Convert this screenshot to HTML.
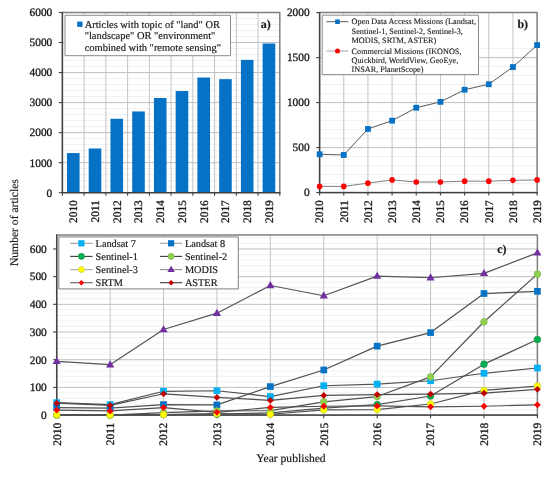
<!DOCTYPE html>
<html><head><meta charset="utf-8"><title>Figure</title>
<style>html,body{margin:0;padding:0;background:#fff;}svg{display:block;filter:blur(0.5px);}</style></head>
<body>
<svg width="550" height="477" viewBox="0 0 550 477" font-family='"Liberation Serif", "Times New Roman", serif' fill="#1a1a1a" stroke-linejoin="round" text-rendering="geometricPrecision"><style>text{stroke:#1a1a1a;stroke-width:0.18px;}.t{stroke-width:0.32px;}</style>
<rect width="550" height="477" fill="#fff"/>
<line x1="62.4" y1="186.69" x2="279.8" y2="186.69" stroke="#f1f1f1" stroke-width="1"/>
<line x1="62.4" y1="180.69" x2="279.8" y2="180.69" stroke="#f1f1f1" stroke-width="1"/>
<line x1="62.4" y1="174.68" x2="279.8" y2="174.68" stroke="#f1f1f1" stroke-width="1"/>
<line x1="62.4" y1="168.67" x2="279.8" y2="168.67" stroke="#f1f1f1" stroke-width="1"/>
<line x1="62.4" y1="156.66" x2="279.8" y2="156.66" stroke="#f1f1f1" stroke-width="1"/>
<line x1="62.4" y1="150.65" x2="279.8" y2="150.65" stroke="#f1f1f1" stroke-width="1"/>
<line x1="62.4" y1="144.65" x2="279.8" y2="144.65" stroke="#f1f1f1" stroke-width="1"/>
<line x1="62.4" y1="138.64" x2="279.8" y2="138.64" stroke="#f1f1f1" stroke-width="1"/>
<line x1="62.4" y1="126.63" x2="279.8" y2="126.63" stroke="#f1f1f1" stroke-width="1"/>
<line x1="62.4" y1="120.62" x2="279.8" y2="120.62" stroke="#f1f1f1" stroke-width="1"/>
<line x1="62.4" y1="114.61" x2="279.8" y2="114.61" stroke="#f1f1f1" stroke-width="1"/>
<line x1="62.4" y1="108.61" x2="279.8" y2="108.61" stroke="#f1f1f1" stroke-width="1"/>
<line x1="62.4" y1="96.59" x2="279.8" y2="96.59" stroke="#f1f1f1" stroke-width="1"/>
<line x1="62.4" y1="90.59" x2="279.8" y2="90.59" stroke="#f1f1f1" stroke-width="1"/>
<line x1="62.4" y1="84.58" x2="279.8" y2="84.58" stroke="#f1f1f1" stroke-width="1"/>
<line x1="62.4" y1="78.57" x2="279.8" y2="78.57" stroke="#f1f1f1" stroke-width="1"/>
<line x1="62.4" y1="66.56" x2="279.8" y2="66.56" stroke="#f1f1f1" stroke-width="1"/>
<line x1="62.4" y1="60.55" x2="279.8" y2="60.55" stroke="#f1f1f1" stroke-width="1"/>
<line x1="62.4" y1="54.55" x2="279.8" y2="54.55" stroke="#f1f1f1" stroke-width="1"/>
<line x1="62.4" y1="48.54" x2="279.8" y2="48.54" stroke="#f1f1f1" stroke-width="1"/>
<line x1="62.4" y1="36.53" x2="279.8" y2="36.53" stroke="#f1f1f1" stroke-width="1"/>
<line x1="62.4" y1="30.52" x2="279.8" y2="30.52" stroke="#f1f1f1" stroke-width="1"/>
<line x1="62.4" y1="24.51" x2="279.8" y2="24.51" stroke="#f1f1f1" stroke-width="1"/>
<line x1="62.4" y1="18.51" x2="279.8" y2="18.51" stroke="#f1f1f1" stroke-width="1"/>
<line x1="62.4" y1="162.67" x2="279.8" y2="162.67" stroke="#c0c0c0" stroke-width="1"/>
<line x1="62.4" y1="132.63" x2="279.8" y2="132.63" stroke="#c0c0c0" stroke-width="1"/>
<line x1="62.4" y1="102.6" x2="279.8" y2="102.6" stroke="#c0c0c0" stroke-width="1"/>
<line x1="62.4" y1="72.57" x2="279.8" y2="72.57" stroke="#c0c0c0" stroke-width="1"/>
<line x1="62.4" y1="42.53" x2="279.8" y2="42.53" stroke="#c0c0c0" stroke-width="1"/>
<line x1="84.14" y1="12.5" x2="84.14" y2="192.7" stroke="#bdbdbd" stroke-width="0.9"/>
<line x1="105.88" y1="12.5" x2="105.88" y2="192.7" stroke="#bdbdbd" stroke-width="0.9"/>
<line x1="127.62" y1="12.5" x2="127.62" y2="192.7" stroke="#bdbdbd" stroke-width="0.9"/>
<line x1="149.36" y1="12.5" x2="149.36" y2="192.7" stroke="#bdbdbd" stroke-width="0.9"/>
<line x1="171.1" y1="12.5" x2="171.1" y2="192.7" stroke="#bdbdbd" stroke-width="0.9"/>
<line x1="192.84" y1="12.5" x2="192.84" y2="192.7" stroke="#bdbdbd" stroke-width="0.9"/>
<line x1="214.58" y1="12.5" x2="214.58" y2="192.7" stroke="#bdbdbd" stroke-width="0.9"/>
<line x1="236.32" y1="12.5" x2="236.32" y2="192.7" stroke="#bdbdbd" stroke-width="0.9"/>
<line x1="258.06" y1="12.5" x2="258.06" y2="192.7" stroke="#bdbdbd" stroke-width="0.9"/>
<rect x="66.97" y="153.06" width="12.6" height="39.64" fill="#0672c6"/>
<rect x="88.71" y="148.49" width="12.6" height="44.21" fill="#0672c6"/>
<rect x="110.45" y="118.76" width="12.6" height="73.94" fill="#0672c6"/>
<rect x="132.19" y="111.46" width="12.6" height="81.24" fill="#0672c6"/>
<rect x="153.93" y="98.03" width="12.6" height="94.67" fill="#0672c6"/>
<rect x="175.67" y="91.04" width="12.6" height="101.66" fill="#0672c6"/>
<rect x="197.41" y="77.52" width="12.6" height="115.18" fill="#0672c6"/>
<rect x="219.15" y="79.17" width="12.6" height="113.53" fill="#0672c6"/>
<rect x="240.89" y="59.86" width="12.6" height="132.84" fill="#0672c6"/>
<rect x="262.63" y="43.49" width="12.6" height="149.21" fill="#0672c6"/>
<rect x="62.4" y="12.5" width="217.4" height="180.2" fill="none" stroke="#7f7f7f" stroke-width="1.5"/>
<line x1="62.4" y1="11.9" x2="62.4" y2="193.3" stroke="#404040" stroke-width="1.3"/>
<line x1="62.4" y1="192.7" x2="280.4" y2="192.7" stroke="#404040" stroke-width="1.3"/>
<line x1="58.8" y1="192.7" x2="62.4" y2="192.7" stroke="#404040" stroke-width="1.1"/>
<text x="52.3" y="196.55" text-anchor="end" font-size="11.4" class="t">0</text>
<line x1="58.8" y1="162.67" x2="62.4" y2="162.67" stroke="#404040" stroke-width="1.1"/>
<text x="52.3" y="166.52" text-anchor="end" font-size="11.4" class="t">1000</text>
<line x1="58.8" y1="132.63" x2="62.4" y2="132.63" stroke="#404040" stroke-width="1.1"/>
<text x="52.3" y="136.49" text-anchor="end" font-size="11.4" class="t">2000</text>
<line x1="58.8" y1="102.6" x2="62.4" y2="102.6" stroke="#404040" stroke-width="1.1"/>
<text x="52.3" y="106.45" text-anchor="end" font-size="11.4" class="t">3000</text>
<line x1="58.8" y1="72.57" x2="62.4" y2="72.57" stroke="#404040" stroke-width="1.1"/>
<text x="52.3" y="76.42" text-anchor="end" font-size="11.4" class="t">4000</text>
<line x1="58.8" y1="42.53" x2="62.4" y2="42.53" stroke="#404040" stroke-width="1.1"/>
<text x="52.3" y="46.39" text-anchor="end" font-size="11.4" class="t">5000</text>
<line x1="58.8" y1="12.5" x2="62.4" y2="12.5" stroke="#404040" stroke-width="1.1"/>
<text x="52.3" y="16.35" text-anchor="end" font-size="11.4" class="t">6000</text>
<line x1="62.4" y1="192.7" x2="62.4" y2="195.7" stroke="#404040" stroke-width="1.1"/>
<line x1="84.14" y1="192.7" x2="84.14" y2="195.7" stroke="#404040" stroke-width="1.1"/>
<line x1="105.88" y1="192.7" x2="105.88" y2="195.7" stroke="#404040" stroke-width="1.1"/>
<line x1="127.62" y1="192.7" x2="127.62" y2="195.7" stroke="#404040" stroke-width="1.1"/>
<line x1="149.36" y1="192.7" x2="149.36" y2="195.7" stroke="#404040" stroke-width="1.1"/>
<line x1="171.1" y1="192.7" x2="171.1" y2="195.7" stroke="#404040" stroke-width="1.1"/>
<line x1="192.84" y1="192.7" x2="192.84" y2="195.7" stroke="#404040" stroke-width="1.1"/>
<line x1="214.58" y1="192.7" x2="214.58" y2="195.7" stroke="#404040" stroke-width="1.1"/>
<line x1="236.32" y1="192.7" x2="236.32" y2="195.7" stroke="#404040" stroke-width="1.1"/>
<line x1="258.06" y1="192.7" x2="258.06" y2="195.7" stroke="#404040" stroke-width="1.1"/>
<line x1="279.8" y1="192.7" x2="279.8" y2="195.7" stroke="#404040" stroke-width="1.1"/>
<text transform="translate(77.12,200.2) rotate(-90)" text-anchor="end" font-size="11.4" class="t">2010</text>
<text transform="translate(98.86,200.2) rotate(-90)" text-anchor="end" font-size="11.4" class="t">2011</text>
<text transform="translate(120.6,200.2) rotate(-90)" text-anchor="end" font-size="11.4" class="t">2012</text>
<text transform="translate(142.34,200.2) rotate(-90)" text-anchor="end" font-size="11.4" class="t">2013</text>
<text transform="translate(164.08,200.2) rotate(-90)" text-anchor="end" font-size="11.4" class="t">2014</text>
<text transform="translate(185.82,200.2) rotate(-90)" text-anchor="end" font-size="11.4" class="t">2015</text>
<text transform="translate(207.56,200.2) rotate(-90)" text-anchor="end" font-size="11.4" class="t">2016</text>
<text transform="translate(229.3,200.2) rotate(-90)" text-anchor="end" font-size="11.4" class="t">2017</text>
<text transform="translate(251.04,200.2) rotate(-90)" text-anchor="end" font-size="11.4" class="t">2018</text>
<text transform="translate(272.78,200.2) rotate(-90)" text-anchor="end" font-size="11.4" class="t">2019</text>
<rect x="65" y="15.3" width="165.5" height="40.4" fill="#fff" stroke="#8c8c8c" stroke-width="1"/>
<rect x="77.2" y="21.6" width="5.3" height="5.3" fill="#0672c6"/>
<text x="84.7" y="27.7" font-size="10.45">Articles with topic of &quot;land&quot; OR</text>
<text x="84.7" y="39.2" font-size="10.45">&quot;landscape&quot; OR &quot;environment&quot;</text>
<text x="84.7" y="50.7" font-size="10.45">combined with &quot;remote sensing&quot;</text>
<text x="260.8" y="28.3" font-size="12" font-weight="bold">a)</text>
<line x1="319.6" y1="183.6" x2="537.1" y2="183.6" stroke="#f1f1f1" stroke-width="1"/>
<line x1="319.6" y1="174.6" x2="537.1" y2="174.6" stroke="#f1f1f1" stroke-width="1"/>
<line x1="319.6" y1="165.6" x2="537.1" y2="165.6" stroke="#f1f1f1" stroke-width="1"/>
<line x1="319.6" y1="156.6" x2="537.1" y2="156.6" stroke="#f1f1f1" stroke-width="1"/>
<line x1="319.6" y1="138.6" x2="537.1" y2="138.6" stroke="#f1f1f1" stroke-width="1"/>
<line x1="319.6" y1="129.6" x2="537.1" y2="129.6" stroke="#f1f1f1" stroke-width="1"/>
<line x1="319.6" y1="120.6" x2="537.1" y2="120.6" stroke="#f1f1f1" stroke-width="1"/>
<line x1="319.6" y1="111.6" x2="537.1" y2="111.6" stroke="#f1f1f1" stroke-width="1"/>
<line x1="319.6" y1="93.6" x2="537.1" y2="93.6" stroke="#f1f1f1" stroke-width="1"/>
<line x1="319.6" y1="84.6" x2="537.1" y2="84.6" stroke="#f1f1f1" stroke-width="1"/>
<line x1="319.6" y1="75.6" x2="537.1" y2="75.6" stroke="#f1f1f1" stroke-width="1"/>
<line x1="319.6" y1="66.6" x2="537.1" y2="66.6" stroke="#f1f1f1" stroke-width="1"/>
<line x1="319.6" y1="48.6" x2="537.1" y2="48.6" stroke="#f1f1f1" stroke-width="1"/>
<line x1="319.6" y1="147.6" x2="537.1" y2="147.6" stroke="#c0c0c0" stroke-width="1"/>
<line x1="319.6" y1="102.6" x2="537.1" y2="102.6" stroke="#c0c0c0" stroke-width="1"/>
<line x1="319.6" y1="57.6" x2="537.1" y2="57.6" stroke="#c0c0c0" stroke-width="1"/>
<line x1="343.77" y1="12.6" x2="343.77" y2="192.6" stroke="#bdbdbd" stroke-width="0.9"/>
<line x1="367.93" y1="12.6" x2="367.93" y2="192.6" stroke="#bdbdbd" stroke-width="0.9"/>
<line x1="392.1" y1="12.6" x2="392.1" y2="192.6" stroke="#bdbdbd" stroke-width="0.9"/>
<line x1="416.27" y1="12.6" x2="416.27" y2="192.6" stroke="#bdbdbd" stroke-width="0.9"/>
<line x1="440.43" y1="12.6" x2="440.43" y2="192.6" stroke="#bdbdbd" stroke-width="0.9"/>
<line x1="464.6" y1="12.6" x2="464.6" y2="192.6" stroke="#bdbdbd" stroke-width="0.9"/>
<line x1="488.77" y1="12.6" x2="488.77" y2="192.6" stroke="#bdbdbd" stroke-width="0.9"/>
<line x1="512.93" y1="12.6" x2="512.93" y2="192.6" stroke="#bdbdbd" stroke-width="0.9"/>
<rect x="319.6" y="12.6" width="217.5" height="180" fill="none" stroke="#7f7f7f" stroke-width="1.5"/>
<line x1="319.6" y1="12" x2="319.6" y2="193.2" stroke="#404040" stroke-width="1.3"/>
<line x1="319.6" y1="192.6" x2="537.7" y2="192.6" stroke="#404040" stroke-width="1.3"/>
<line x1="316.2" y1="192.6" x2="319.6" y2="192.6" stroke="#404040" stroke-width="1.1"/>
<text x="309.7" y="196.45" text-anchor="end" font-size="11.4" class="t">0</text>
<line x1="316.2" y1="147.6" x2="319.6" y2="147.6" stroke="#404040" stroke-width="1.1"/>
<text x="309.7" y="151.45" text-anchor="end" font-size="11.4" class="t">500</text>
<line x1="316.2" y1="102.6" x2="319.6" y2="102.6" stroke="#404040" stroke-width="1.1"/>
<text x="309.7" y="106.45" text-anchor="end" font-size="11.4" class="t">1000</text>
<line x1="316.2" y1="57.6" x2="319.6" y2="57.6" stroke="#404040" stroke-width="1.1"/>
<text x="309.7" y="61.45" text-anchor="end" font-size="11.4" class="t">1500</text>
<line x1="316.2" y1="12.6" x2="319.6" y2="12.6" stroke="#404040" stroke-width="1.1"/>
<text x="309.7" y="16.45" text-anchor="end" font-size="11.4" class="t">2000</text>
<line x1="319.6" y1="192.6" x2="319.6" y2="195.6" stroke="#404040" stroke-width="1.1"/>
<text transform="translate(323.45,200.2) rotate(-90)" text-anchor="end" font-size="11.4" class="t">2010</text>
<line x1="343.77" y1="192.6" x2="343.77" y2="195.6" stroke="#404040" stroke-width="1.1"/>
<text transform="translate(347.62,200.2) rotate(-90)" text-anchor="end" font-size="11.4" class="t">2011</text>
<line x1="367.93" y1="192.6" x2="367.93" y2="195.6" stroke="#404040" stroke-width="1.1"/>
<text transform="translate(371.79,200.2) rotate(-90)" text-anchor="end" font-size="11.4" class="t">2012</text>
<line x1="392.1" y1="192.6" x2="392.1" y2="195.6" stroke="#404040" stroke-width="1.1"/>
<text transform="translate(395.95,200.2) rotate(-90)" text-anchor="end" font-size="11.4" class="t">2013</text>
<line x1="416.27" y1="192.6" x2="416.27" y2="195.6" stroke="#404040" stroke-width="1.1"/>
<text transform="translate(420.12,200.2) rotate(-90)" text-anchor="end" font-size="11.4" class="t">2014</text>
<line x1="440.43" y1="192.6" x2="440.43" y2="195.6" stroke="#404040" stroke-width="1.1"/>
<text transform="translate(444.29,200.2) rotate(-90)" text-anchor="end" font-size="11.4" class="t">2015</text>
<line x1="464.6" y1="192.6" x2="464.6" y2="195.6" stroke="#404040" stroke-width="1.1"/>
<text transform="translate(468.45,200.2) rotate(-90)" text-anchor="end" font-size="11.4" class="t">2016</text>
<line x1="488.77" y1="192.6" x2="488.77" y2="195.6" stroke="#404040" stroke-width="1.1"/>
<text transform="translate(492.62,200.2) rotate(-90)" text-anchor="end" font-size="11.4" class="t">2017</text>
<line x1="512.93" y1="192.6" x2="512.93" y2="195.6" stroke="#404040" stroke-width="1.1"/>
<text transform="translate(516.79,200.2) rotate(-90)" text-anchor="end" font-size="11.4" class="t">2018</text>
<line x1="537.1" y1="192.6" x2="537.1" y2="195.6" stroke="#404040" stroke-width="1.1"/>
<text transform="translate(540.95,200.2) rotate(-90)" text-anchor="end" font-size="11.4" class="t">2019</text>
<polyline points="319.6,186.39 343.77,186.39 367.93,183.15 392.1,179.91 416.27,181.98 440.43,181.98 464.6,181.17 488.77,181.17 512.93,180.36 537.1,179.91" fill="none" stroke="#7f7f7f" stroke-width="1"/>
<circle cx="319.6" cy="186.39" r="2.8" fill="#ff0000"/>
<circle cx="343.77" cy="186.39" r="2.8" fill="#ff0000"/>
<circle cx="367.93" cy="183.15" r="2.8" fill="#ff0000"/>
<circle cx="392.1" cy="179.91" r="2.8" fill="#ff0000"/>
<circle cx="416.27" cy="181.98" r="2.8" fill="#ff0000"/>
<circle cx="440.43" cy="181.98" r="2.8" fill="#ff0000"/>
<circle cx="464.6" cy="181.17" r="2.8" fill="#ff0000"/>
<circle cx="488.77" cy="181.17" r="2.8" fill="#ff0000"/>
<circle cx="512.93" cy="180.36" r="2.8" fill="#ff0000"/>
<circle cx="537.1" cy="179.91" r="2.8" fill="#ff0000"/>
<polyline points="319.6,154.26 343.77,154.98 367.93,128.97 392.1,120.69 416.27,107.73 440.43,101.88 464.6,89.73 488.77,84.24 512.93,67.05 537.1,45.09" fill="none" stroke="#595959" stroke-width="1"/>
<rect x="316.7" y="151.36" width="5.8" height="5.8" fill="#0672c6"/>
<rect x="340.87" y="152.08" width="5.8" height="5.8" fill="#0672c6"/>
<rect x="365.03" y="126.07" width="5.8" height="5.8" fill="#0672c6"/>
<rect x="389.2" y="117.79" width="5.8" height="5.8" fill="#0672c6"/>
<rect x="413.37" y="104.83" width="5.8" height="5.8" fill="#0672c6"/>
<rect x="437.53" y="98.98" width="5.8" height="5.8" fill="#0672c6"/>
<rect x="461.7" y="86.83" width="5.8" height="5.8" fill="#0672c6"/>
<rect x="485.87" y="81.34" width="5.8" height="5.8" fill="#0672c6"/>
<rect x="510.03" y="64.15" width="5.8" height="5.8" fill="#0672c6"/>
<rect x="534.2" y="42.19" width="5.8" height="5.8" fill="#0672c6"/>
<rect x="322.2" y="15.2" width="156.3" height="59.4" fill="#fff" stroke="#8c8c8c" stroke-width="1"/>
<line x1="326.5" y1="21.7" x2="348.4" y2="21.7" stroke="#595959" stroke-width="1"/>
<rect x="335.2" y="19.4" width="4.6" height="4.6" fill="#0672c6"/>
<line x1="326.5" y1="51" x2="348.4" y2="51" stroke="#a6a6a6" stroke-width="1"/>
<circle cx="337.5" cy="51" r="2.5" fill="#ff0000"/>
<text x="351.6" y="24.4" font-size="8.2" style="stroke-width:0.12px">Open Data Access Missions (Landsat,</text>
<text x="351.6" y="33.5" font-size="8.2" style="stroke-width:0.12px">Sentinel-1, Sentinel-2, Sentinel-3,</text>
<text x="351.6" y="42.6" font-size="8.2" style="stroke-width:0.12px">MODIS, SRTM, ASTER)</text>
<text x="351.6" y="53.6" font-size="8.2" style="stroke-width:0.12px">Commercial Missions (IKONOS,</text>
<text x="351.6" y="62.8" font-size="8.2" style="stroke-width:0.12px">Quickbird, WorldView, GeoEye,</text>
<text x="351.6" y="71.9" font-size="8.2" style="stroke-width:0.12px">INSAR, PlanetScope)</text>
<text x="517.4" y="28.4" font-size="12" font-weight="bold">b)</text>
<line x1="56.7" y1="409.56" x2="537.4" y2="409.56" stroke="#f1f1f1" stroke-width="1"/>
<line x1="56.7" y1="404.02" x2="537.4" y2="404.02" stroke="#f1f1f1" stroke-width="1"/>
<line x1="56.7" y1="398.48" x2="537.4" y2="398.48" stroke="#f1f1f1" stroke-width="1"/>
<line x1="56.7" y1="392.95" x2="537.4" y2="392.95" stroke="#f1f1f1" stroke-width="1"/>
<line x1="56.7" y1="381.87" x2="537.4" y2="381.87" stroke="#f1f1f1" stroke-width="1"/>
<line x1="56.7" y1="376.33" x2="537.4" y2="376.33" stroke="#f1f1f1" stroke-width="1"/>
<line x1="56.7" y1="370.79" x2="537.4" y2="370.79" stroke="#f1f1f1" stroke-width="1"/>
<line x1="56.7" y1="365.25" x2="537.4" y2="365.25" stroke="#f1f1f1" stroke-width="1"/>
<line x1="56.7" y1="354.18" x2="537.4" y2="354.18" stroke="#f1f1f1" stroke-width="1"/>
<line x1="56.7" y1="348.64" x2="537.4" y2="348.64" stroke="#f1f1f1" stroke-width="1"/>
<line x1="56.7" y1="343.1" x2="537.4" y2="343.1" stroke="#f1f1f1" stroke-width="1"/>
<line x1="56.7" y1="337.56" x2="537.4" y2="337.56" stroke="#f1f1f1" stroke-width="1"/>
<line x1="56.7" y1="326.48" x2="537.4" y2="326.48" stroke="#f1f1f1" stroke-width="1"/>
<line x1="56.7" y1="320.95" x2="537.4" y2="320.95" stroke="#f1f1f1" stroke-width="1"/>
<line x1="56.7" y1="315.41" x2="537.4" y2="315.41" stroke="#f1f1f1" stroke-width="1"/>
<line x1="56.7" y1="309.87" x2="537.4" y2="309.87" stroke="#f1f1f1" stroke-width="1"/>
<line x1="56.7" y1="298.79" x2="537.4" y2="298.79" stroke="#f1f1f1" stroke-width="1"/>
<line x1="56.7" y1="293.25" x2="537.4" y2="293.25" stroke="#f1f1f1" stroke-width="1"/>
<line x1="56.7" y1="287.72" x2="537.4" y2="287.72" stroke="#f1f1f1" stroke-width="1"/>
<line x1="56.7" y1="282.18" x2="537.4" y2="282.18" stroke="#f1f1f1" stroke-width="1"/>
<line x1="56.7" y1="271.1" x2="537.4" y2="271.1" stroke="#f1f1f1" stroke-width="1"/>
<line x1="56.7" y1="265.56" x2="537.4" y2="265.56" stroke="#f1f1f1" stroke-width="1"/>
<line x1="56.7" y1="260.02" x2="537.4" y2="260.02" stroke="#f1f1f1" stroke-width="1"/>
<line x1="56.7" y1="254.48" x2="537.4" y2="254.48" stroke="#f1f1f1" stroke-width="1"/>
<line x1="56.7" y1="243.41" x2="537.4" y2="243.41" stroke="#f1f1f1" stroke-width="1"/>
<line x1="56.7" y1="237.87" x2="537.4" y2="237.87" stroke="#f1f1f1" stroke-width="1"/>
<line x1="56.7" y1="387.41" x2="537.4" y2="387.41" stroke="#c0c0c0" stroke-width="1"/>
<line x1="56.7" y1="359.72" x2="537.4" y2="359.72" stroke="#c0c0c0" stroke-width="1"/>
<line x1="56.7" y1="332.02" x2="537.4" y2="332.02" stroke="#c0c0c0" stroke-width="1"/>
<line x1="56.7" y1="304.33" x2="537.4" y2="304.33" stroke="#c0c0c0" stroke-width="1"/>
<line x1="56.7" y1="276.64" x2="537.4" y2="276.64" stroke="#c0c0c0" stroke-width="1"/>
<line x1="56.7" y1="248.95" x2="537.4" y2="248.95" stroke="#c0c0c0" stroke-width="1"/>
<line x1="110.11" y1="235.1" x2="110.11" y2="415.1" stroke="#bdbdbd" stroke-width="0.9"/>
<line x1="163.52" y1="235.1" x2="163.52" y2="415.1" stroke="#bdbdbd" stroke-width="0.9"/>
<line x1="216.93" y1="235.1" x2="216.93" y2="415.1" stroke="#bdbdbd" stroke-width="0.9"/>
<line x1="270.34" y1="235.1" x2="270.34" y2="415.1" stroke="#bdbdbd" stroke-width="0.9"/>
<line x1="323.76" y1="235.1" x2="323.76" y2="415.1" stroke="#bdbdbd" stroke-width="0.9"/>
<line x1="377.17" y1="235.1" x2="377.17" y2="415.1" stroke="#bdbdbd" stroke-width="0.9"/>
<line x1="430.58" y1="235.1" x2="430.58" y2="415.1" stroke="#bdbdbd" stroke-width="0.9"/>
<line x1="483.99" y1="235.1" x2="483.99" y2="415.1" stroke="#bdbdbd" stroke-width="0.9"/>
<rect x="56.7" y="235.1" width="480.7" height="180" fill="none" stroke="#7f7f7f" stroke-width="1.5"/>
<line x1="56.7" y1="234.5" x2="56.7" y2="415.7" stroke="#404040" stroke-width="1.3"/>
<line x1="56.7" y1="415.1" x2="538" y2="415.1" stroke="#404040" stroke-width="1.3"/>
<line x1="53.1" y1="415.1" x2="56.7" y2="415.1" stroke="#404040" stroke-width="1.1"/>
<text x="46.8" y="418.95" text-anchor="end" font-size="11.4" class="t">0</text>
<line x1="53.1" y1="387.41" x2="56.7" y2="387.41" stroke="#404040" stroke-width="1.1"/>
<text x="46.8" y="391.26" text-anchor="end" font-size="11.4" class="t">100</text>
<line x1="53.1" y1="359.72" x2="56.7" y2="359.72" stroke="#404040" stroke-width="1.1"/>
<text x="46.8" y="363.57" text-anchor="end" font-size="11.4" class="t">200</text>
<line x1="53.1" y1="332.02" x2="56.7" y2="332.02" stroke="#404040" stroke-width="1.1"/>
<text x="46.8" y="335.88" text-anchor="end" font-size="11.4" class="t">300</text>
<line x1="53.1" y1="304.33" x2="56.7" y2="304.33" stroke="#404040" stroke-width="1.1"/>
<text x="46.8" y="308.18" text-anchor="end" font-size="11.4" class="t">400</text>
<line x1="53.1" y1="276.64" x2="56.7" y2="276.64" stroke="#404040" stroke-width="1.1"/>
<text x="46.8" y="280.49" text-anchor="end" font-size="11.4" class="t">500</text>
<line x1="53.1" y1="248.95" x2="56.7" y2="248.95" stroke="#404040" stroke-width="1.1"/>
<text x="46.8" y="252.8" text-anchor="end" font-size="11.4" class="t">600</text>
<line x1="56.7" y1="415.1" x2="56.7" y2="418.3" stroke="#404040" stroke-width="1.1"/>
<text transform="translate(60.55,422.9) rotate(-90)" text-anchor="end" font-size="11.4" class="t">2010</text>
<line x1="110.11" y1="415.1" x2="110.11" y2="418.3" stroke="#404040" stroke-width="1.1"/>
<text transform="translate(113.96,422.9) rotate(-90)" text-anchor="end" font-size="11.4" class="t">2011</text>
<line x1="163.52" y1="415.1" x2="163.52" y2="418.3" stroke="#404040" stroke-width="1.1"/>
<text transform="translate(167.38,422.9) rotate(-90)" text-anchor="end" font-size="11.4" class="t">2012</text>
<line x1="216.93" y1="415.1" x2="216.93" y2="418.3" stroke="#404040" stroke-width="1.1"/>
<text transform="translate(220.79,422.9) rotate(-90)" text-anchor="end" font-size="11.4" class="t">2013</text>
<line x1="270.34" y1="415.1" x2="270.34" y2="418.3" stroke="#404040" stroke-width="1.1"/>
<text transform="translate(274.2,422.9) rotate(-90)" text-anchor="end" font-size="11.4" class="t">2014</text>
<line x1="323.76" y1="415.1" x2="323.76" y2="418.3" stroke="#404040" stroke-width="1.1"/>
<text transform="translate(327.61,422.9) rotate(-90)" text-anchor="end" font-size="11.4" class="t">2015</text>
<line x1="377.17" y1="415.1" x2="377.17" y2="418.3" stroke="#404040" stroke-width="1.1"/>
<text transform="translate(381.02,422.9) rotate(-90)" text-anchor="end" font-size="11.4" class="t">2016</text>
<line x1="430.58" y1="415.1" x2="430.58" y2="418.3" stroke="#404040" stroke-width="1.1"/>
<text transform="translate(434.43,422.9) rotate(-90)" text-anchor="end" font-size="11.4" class="t">2017</text>
<line x1="483.99" y1="415.1" x2="483.99" y2="418.3" stroke="#404040" stroke-width="1.1"/>
<text transform="translate(487.84,422.9) rotate(-90)" text-anchor="end" font-size="11.4" class="t">2018</text>
<line x1="537.4" y1="415.1" x2="537.4" y2="418.3" stroke="#404040" stroke-width="1.1"/>
<text transform="translate(541.25,422.9) rotate(-90)" text-anchor="end" font-size="11.4" class="t">2019</text>
<polyline points="56.7,402.64 110.11,404.58 163.52,391.28 216.93,390.73 270.34,396.55 323.76,385.75 377.17,384.08 430.58,380.76 483.99,373.28 537.4,368.02" fill="none" stroke="#505050" stroke-width="1.2"/>
<rect x="53.35" y="399.29" width="6.7" height="6.7" fill="#00b0f0"/>
<rect x="106.76" y="401.23" width="6.7" height="6.7" fill="#00b0f0"/>
<rect x="160.17" y="387.93" width="6.7" height="6.7" fill="#00b0f0"/>
<rect x="213.58" y="387.38" width="6.7" height="6.7" fill="#00b0f0"/>
<rect x="266.99" y="393.2" width="6.7" height="6.7" fill="#00b0f0"/>
<rect x="320.41" y="382.4" width="6.7" height="6.7" fill="#00b0f0"/>
<rect x="373.82" y="380.73" width="6.7" height="6.7" fill="#00b0f0"/>
<rect x="427.23" y="377.41" width="6.7" height="6.7" fill="#00b0f0"/>
<rect x="480.64" y="369.93" width="6.7" height="6.7" fill="#00b0f0"/>
<rect x="534.05" y="364.67" width="6.7" height="6.7" fill="#00b0f0"/>
<polyline points="56.7,407.62 110.11,408.18 163.52,404.58 216.93,404.85 270.34,386.58 323.76,369.96 377.17,346.15 430.58,332.58 483.99,293.53 537.4,291.32" fill="none" stroke="#505050" stroke-width="1.2"/>
<rect x="53.35" y="404.27" width="6.7" height="6.7" fill="#0672c6"/>
<rect x="106.76" y="404.83" width="6.7" height="6.7" fill="#0672c6"/>
<rect x="160.17" y="401.23" width="6.7" height="6.7" fill="#0672c6"/>
<rect x="213.58" y="401.5" width="6.7" height="6.7" fill="#0672c6"/>
<rect x="266.99" y="383.23" width="6.7" height="6.7" fill="#0672c6"/>
<rect x="320.41" y="366.61" width="6.7" height="6.7" fill="#0672c6"/>
<rect x="373.82" y="342.8" width="6.7" height="6.7" fill="#0672c6"/>
<rect x="427.23" y="329.23" width="6.7" height="6.7" fill="#0672c6"/>
<rect x="480.64" y="290.18" width="6.7" height="6.7" fill="#0672c6"/>
<rect x="534.05" y="287.97" width="6.7" height="6.7" fill="#0672c6"/>
<polyline points="56.7,415.1 110.11,415.1 163.52,414.55 216.93,414.27 270.34,412.88 323.76,408.18 377.17,404.58 430.58,395.99 483.99,364.15 537.4,339.5" fill="none" stroke="#505050" stroke-width="1.2"/>
<circle cx="56.7" cy="415.1" r="3.35" fill="#00b050" stroke="#1f8a45" stroke-width="0.6"/>
<circle cx="110.11" cy="415.1" r="3.35" fill="#00b050" stroke="#1f8a45" stroke-width="0.6"/>
<circle cx="163.52" cy="414.55" r="3.35" fill="#00b050" stroke="#1f8a45" stroke-width="0.6"/>
<circle cx="216.93" cy="414.27" r="3.35" fill="#00b050" stroke="#1f8a45" stroke-width="0.6"/>
<circle cx="270.34" cy="412.88" r="3.35" fill="#00b050" stroke="#1f8a45" stroke-width="0.6"/>
<circle cx="323.76" cy="408.18" r="3.35" fill="#00b050" stroke="#1f8a45" stroke-width="0.6"/>
<circle cx="377.17" cy="404.58" r="3.35" fill="#00b050" stroke="#1f8a45" stroke-width="0.6"/>
<circle cx="430.58" cy="395.99" r="3.35" fill="#00b050" stroke="#1f8a45" stroke-width="0.6"/>
<circle cx="483.99" cy="364.15" r="3.35" fill="#00b050" stroke="#1f8a45" stroke-width="0.6"/>
<circle cx="537.4" cy="339.5" r="3.35" fill="#00b050" stroke="#1f8a45" stroke-width="0.6"/>
<polyline points="56.7,415.1 110.11,415.1 163.52,412.61 216.93,410.95 270.34,410.67 323.76,401.81 377.17,396.55 430.58,376.88 483.99,321.78 537.4,274.15" fill="none" stroke="#505050" stroke-width="1.2"/>
<circle cx="56.7" cy="415.1" r="3.35" fill="#92d050" stroke="#78b048" stroke-width="0.6"/>
<circle cx="110.11" cy="415.1" r="3.35" fill="#92d050" stroke="#78b048" stroke-width="0.6"/>
<circle cx="163.52" cy="412.61" r="3.35" fill="#92d050" stroke="#78b048" stroke-width="0.6"/>
<circle cx="216.93" cy="410.95" r="3.35" fill="#92d050" stroke="#78b048" stroke-width="0.6"/>
<circle cx="270.34" cy="410.67" r="3.35" fill="#92d050" stroke="#78b048" stroke-width="0.6"/>
<circle cx="323.76" cy="401.81" r="3.35" fill="#92d050" stroke="#78b048" stroke-width="0.6"/>
<circle cx="377.17" cy="396.55" r="3.35" fill="#92d050" stroke="#78b048" stroke-width="0.6"/>
<circle cx="430.58" cy="376.88" r="3.35" fill="#92d050" stroke="#78b048" stroke-width="0.6"/>
<circle cx="483.99" cy="321.78" r="3.35" fill="#92d050" stroke="#78b048" stroke-width="0.6"/>
<circle cx="537.4" cy="274.15" r="3.35" fill="#92d050" stroke="#78b048" stroke-width="0.6"/>
<polyline points="56.7,414.82 110.11,415.1 163.52,414.55 216.93,413.72 270.34,414.27 323.76,409.84 377.17,409.56 430.58,404.02 483.99,390.45 537.4,386.02" fill="none" stroke="#505050" stroke-width="1.2"/>
<circle cx="56.7" cy="414.82" r="3.35" fill="#ffff00" stroke="#c8c040" stroke-width="0.6"/>
<circle cx="110.11" cy="415.1" r="3.35" fill="#ffff00" stroke="#c8c040" stroke-width="0.6"/>
<circle cx="163.52" cy="414.55" r="3.35" fill="#ffff00" stroke="#c8c040" stroke-width="0.6"/>
<circle cx="216.93" cy="413.72" r="3.35" fill="#ffff00" stroke="#c8c040" stroke-width="0.6"/>
<circle cx="270.34" cy="414.27" r="3.35" fill="#ffff00" stroke="#c8c040" stroke-width="0.6"/>
<circle cx="323.76" cy="409.84" r="3.35" fill="#ffff00" stroke="#c8c040" stroke-width="0.6"/>
<circle cx="377.17" cy="409.56" r="3.35" fill="#ffff00" stroke="#c8c040" stroke-width="0.6"/>
<circle cx="430.58" cy="404.02" r="3.35" fill="#ffff00" stroke="#c8c040" stroke-width="0.6"/>
<circle cx="483.99" cy="390.45" r="3.35" fill="#ffff00" stroke="#c8c040" stroke-width="0.6"/>
<circle cx="537.4" cy="386.02" r="3.35" fill="#ffff00" stroke="#c8c040" stroke-width="0.6"/>
<polyline points="56.7,361.38 110.11,364.7 163.52,329.53 216.93,313.19 270.34,285.5 323.76,295.75 377.17,276.08 430.58,277.75 483.99,273.32 537.4,252.82" fill="none" stroke="#555555" stroke-width="1.2"/>
<polygon points="56.7,356.97 52.6,364.08 60.8,364.08" fill="#7030a0"/>
<polygon points="110.11,360.3 106.01,367.4 114.21,367.4" fill="#7030a0"/>
<polygon points="163.52,325.13 159.42,332.23 167.62,332.23" fill="#7030a0"/>
<polygon points="216.93,308.79 212.83,315.89 221.03,315.89" fill="#7030a0"/>
<polygon points="270.34,281.1 266.24,288.2 274.44,288.2" fill="#7030a0"/>
<polygon points="323.76,291.34 319.66,298.44 327.86,298.44" fill="#7030a0"/>
<polygon points="377.17,271.68 373.07,278.78 381.27,278.78" fill="#7030a0"/>
<polygon points="430.58,273.34 426.48,280.44 434.68,280.44" fill="#7030a0"/>
<polygon points="483.99,268.91 479.89,276.01 488.09,276.01" fill="#7030a0"/>
<polygon points="537.4,248.42 533.3,255.52 541.5,255.52" fill="#7030a0"/>
<polyline points="56.7,410.12 110.11,410.95 163.52,407.62 216.93,412.33 270.34,407.35 323.76,406.24 377.17,405.96 430.58,406.79 483.99,406.24 537.4,404.85" fill="none" stroke="#505050" stroke-width="1.2"/>
<polygon points="56.7,406.72 60.1,410.12 56.7,413.52 53.3,410.12" fill="#ff0000"/>
<polygon points="110.11,407.55 113.51,410.95 110.11,414.35 106.71,410.95" fill="#ff0000"/>
<polygon points="163.52,404.22 166.92,407.62 163.52,411.02 160.12,407.62" fill="#ff0000"/>
<polygon points="216.93,408.93 220.33,412.33 216.93,415.73 213.53,412.33" fill="#ff0000"/>
<polygon points="270.34,403.95 273.74,407.35 270.34,410.75 266.94,407.35" fill="#ff0000"/>
<polygon points="323.76,402.84 327.16,406.24 323.76,409.64 320.36,406.24" fill="#ff0000"/>
<polygon points="377.17,402.56 380.57,405.96 377.17,409.36 373.77,405.96" fill="#ff0000"/>
<polygon points="430.58,403.39 433.98,406.79 430.58,410.19 427.18,406.79" fill="#ff0000"/>
<polygon points="483.99,402.84 487.39,406.24 483.99,409.64 480.59,406.24" fill="#ff0000"/>
<polygon points="537.4,401.45 540.8,404.85 537.4,408.25 534,404.85" fill="#ff0000"/>
<polyline points="56.7,403.19 110.11,405.41 163.52,393.78 216.93,397.38 270.34,400.42 323.76,395.44 377.17,394.61 430.58,394.05 483.99,393.22 537.4,389.35" fill="none" stroke="#505050" stroke-width="1.2"/>
<polygon points="56.7,399.79 60.1,403.19 56.7,406.59 53.3,403.19" fill="#c00000"/>
<polygon points="110.11,402.01 113.51,405.41 110.11,408.81 106.71,405.41" fill="#c00000"/>
<polygon points="163.52,390.38 166.92,393.78 163.52,397.18 160.12,393.78" fill="#c00000"/>
<polygon points="216.93,393.98 220.33,397.38 216.93,400.78 213.53,397.38" fill="#c00000"/>
<polygon points="270.34,397.02 273.74,400.42 270.34,403.82 266.94,400.42" fill="#c00000"/>
<polygon points="323.76,392.04 327.16,395.44 323.76,398.84 320.36,395.44" fill="#c00000"/>
<polygon points="377.17,391.21 380.57,394.61 377.17,398.01 373.77,394.61" fill="#c00000"/>
<polygon points="430.58,390.65 433.98,394.05 430.58,397.45 427.18,394.05" fill="#c00000"/>
<polygon points="483.99,389.82 487.39,393.22 483.99,396.62 480.59,393.22" fill="#c00000"/>
<polygon points="537.4,385.95 540.8,389.35 537.4,392.75 534,389.35" fill="#c00000"/>
<rect x="58.8" y="236.9" width="179.5" height="52" fill="#fff" stroke="#7f7f7f" stroke-width="1"/>
<line x1="70.2" y1="243.3" x2="92.6" y2="243.3" stroke="#a0a0a0" stroke-width="1.1"/>
<rect x="78.3" y="240.2" width="6.2" height="6.2" fill="#00b0f0"/>
<text x="95.6" y="246.9" font-size="10.3">Landsat 7</text>
<line x1="160" y1="243.3" x2="182.2" y2="243.3" stroke="#a0a0a0" stroke-width="1.1"/>
<rect x="168" y="240.2" width="6.2" height="6.2" fill="#0672c6"/>
<text x="184.9" y="246.9" font-size="10.3">Landsat 8</text>
<line x1="70.2" y1="256.4" x2="92.6" y2="256.4" stroke="#3a3a3a" stroke-width="1.1"/>
<circle cx="81.4" cy="256.4" r="3.05" fill="#00b050" stroke="#1f8a45" stroke-width="0.6"/>
<text x="95.6" y="260" font-size="10.3">Sentinel-1</text>
<line x1="160" y1="256.4" x2="182.2" y2="256.4" stroke="#3a3a3a" stroke-width="1.1"/>
<circle cx="171.1" cy="256.4" r="3.05" fill="#92d050" stroke="#78b048" stroke-width="0.6"/>
<text x="184.9" y="260" font-size="10.3">Sentinel-2</text>
<line x1="70.2" y1="269.6" x2="92.6" y2="269.6" stroke="#a8a8a8" stroke-width="1.1"/>
<circle cx="81.4" cy="269.6" r="3.05" fill="#ffff00" stroke="#c8c040" stroke-width="0.6"/>
<text x="95.6" y="273.2" font-size="10.3">Sentinel-3</text>
<line x1="160" y1="269.6" x2="182.2" y2="269.6" stroke="#8c8c8c" stroke-width="1.1"/>
<polygon points="171.1,265.63 167.4,272.04 174.8,272.04" fill="#7030a0"/>
<text x="184.9" y="273.2" font-size="10.3">MODIS</text>
<line x1="70.2" y1="282.7" x2="92.6" y2="282.7" stroke="#606060" stroke-width="1.1"/>
<polygon points="81.4,279.9 84.2,282.7 81.4,285.5 78.6,282.7" fill="#ff0000"/>
<text x="95.6" y="286.3" font-size="10.3">SRTM</text>
<line x1="160" y1="282.7" x2="182.2" y2="282.7" stroke="#3a3a3a" stroke-width="1.1"/>
<polygon points="171.1,279.9 173.9,282.7 171.1,285.5 168.3,282.7" fill="#c00000"/>
<text x="184.9" y="286.3" font-size="10.3">ASTER</text>
<text x="497.3" y="252.6" font-size="12" font-weight="bold">c)</text>
<text transform="translate(17.6,222.6) rotate(-90)" text-anchor="middle" font-size="11.6">Number of articles</text>
<text x="291" y="462.2" text-anchor="middle" font-size="11.6">Year published</text>
</svg>
</body></html>
